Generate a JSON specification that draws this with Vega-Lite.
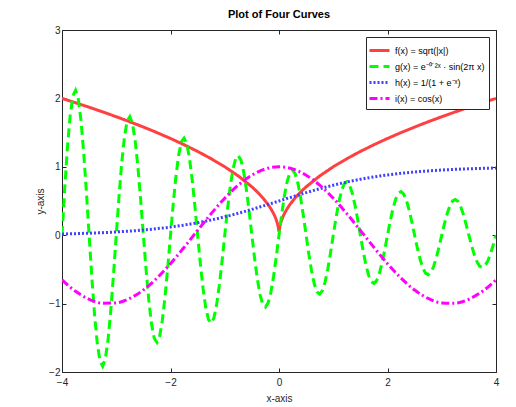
{
  "$schema": "https://vega.github.io/schema/vega-lite/v6.json",
  "width": 434,
  "height": 342,
  "autosize": {"type": "none"},
  "padding": {"left": 62, "top": 30, "right": 20, "bottom": 35},
  "background": "white",
  "title": {"text": "Plot of Four Curves", "fontSize": 11, "fontWeight": "bold", "font": "Liberation Sans", "color": "black", "offset": 5},
  "config": {
    "view": {"stroke": null},
    "font": "Liberation Sans",
    "axis": {
      "grid": false,
      "domainColor": "#262626",
      "tickColor": "#262626",
      "labelColor": "#262626",
      "titleColor": "#262626",
      "labelFont": "Liberation Sans",
      "titleFont": "Liberation Sans",
      "labelFontSize": 10,
      "titleFontSize": 10,
      "titleFontWeight": "normal",
      "tickSize": -4,
      "domainWidth": 1
    },
    "legend": {
      "orient": "top-right",
      "offset": 7,
      "strokeColor": "#262626",
      "fillColor": "white",
      "padding": 4,
      "labelFont": "Liberation Sans",
      "labelFontSize": 9,
      "labelColor": "black",
      "labelOffset": 6,
      "symbolType": "M-1.25,0H1.25",
      "symbolSize": 256,
      "symbolStrokeWidth": 3,
      "rowPadding": 0,
      "title": null
    }
  },
  "datasets": {
    "f": [
      {"x": -4, "y": 2}, {"x": -3.75, "y": 1.9365}, {"x": -3.5, "y": 1.8708}, {"x": -3.25, "y": 1.8028},
      {"x": -3, "y": 1.7321}, {"x": -2.75, "y": 1.6583}, {"x": -2.5, "y": 1.5811}, {"x": -2.25, "y": 1.5},
      {"x": -2, "y": 1.4142}, {"x": -1.75, "y": 1.3229}, {"x": -1.5, "y": 1.2247}, {"x": -1.25, "y": 1.118},
      {"x": -1, "y": 1}, {"x": -0.75, "y": 0.866}, {"x": -0.5, "y": 0.7071}, {"x": -0.4, "y": 0.6325},
      {"x": -0.3, "y": 0.5477}, {"x": -0.2, "y": 0.4472}, {"x": -0.15, "y": 0.3873}, {"x": -0.1, "y": 0.3162},
      {"x": -0.07, "y": 0.2646}, {"x": -0.05, "y": 0.2236}, {"x": -0.03, "y": 0.1732}, {"x": -0.02, "y": 0.1414},
      {"x": -0.01, "y": 0.1}, {"x": -0.005, "y": 0.0707},
      {"x": 0.005, "y": 0.0707}, {"x": 0.01, "y": 0.1}, {"x": 0.02, "y": 0.1414}, {"x": 0.03, "y": 0.1732},
      {"x": 0.05, "y": 0.2236}, {"x": 0.07, "y": 0.2646}, {"x": 0.1, "y": 0.3162}, {"x": 0.15, "y": 0.3873},
      {"x": 0.2, "y": 0.4472}, {"x": 0.3, "y": 0.5477}, {"x": 0.4, "y": 0.6325}, {"x": 0.5, "y": 0.7071},
      {"x": 0.75, "y": 0.866}, {"x": 1, "y": 1}, {"x": 1.25, "y": 1.118}, {"x": 1.5, "y": 1.2247},
      {"x": 1.75, "y": 1.3229}, {"x": 2, "y": 1.4142}, {"x": 2.25, "y": 1.5}, {"x": 2.5, "y": 1.5811},
      {"x": 2.75, "y": 1.6583}, {"x": 3, "y": 1.7321}, {"x": 3.25, "y": 1.8028}, {"x": 3.5, "y": 1.8708},
      {"x": 3.75, "y": 1.9365}, {"x": 4, "y": 2}
    ],
    "g": [
      {"x": -4, "y": 0}, {"x": -3.95, "y": 0.681}, {"x": -3.9, "y": 1.282}, {"x": -3.85, "y": 1.747}, {"x": -3.8, "y": 2.034},
      {"x": -3.75, "y": 2.117}, {"x": -3.7, "y": 1.993}, {"x": -3.65, "y": 1.679}, {"x": -3.6, "y": 1.208}, {"x": -3.55, "y": 0.629},
      {"x": -3.5, "y": 0}, {"x": -3.45, "y": -0.616}, {"x": -3.4, "y": -1.16}, {"x": -3.35, "y": -1.581}, {"x": -3.3, "y": -1.84},
      {"x": -3.25, "y": -1.916}, {"x": -3.2, "y": -1.804}, {"x": -3.15, "y": -1.519}, {"x": -3.1, "y": -1.093}, {"x": -3.05, "y": -0.569},
      {"x": -3, "y": 0}, {"x": -2.95, "y": 0.557}, {"x": -2.9, "y": 1.05}, {"x": -2.85, "y": 1.431}, {"x": -2.8, "y": 1.665},
      {"x": -2.75, "y": 1.733}, {"x": -2.7, "y": 1.632}, {"x": -2.65, "y": 1.374}, {"x": -2.6, "y": 0.989}, {"x": -2.55, "y": 0.515},
      {"x": -2.5, "y": 0}, {"x": -2.45, "y": -0.504}, {"x": -2.4, "y": -0.95}, {"x": -2.35, "y": -1.294}, {"x": -2.3, "y": -1.507},
      {"x": -2.25, "y": -1.568}, {"x": -2.2, "y": -1.477}, {"x": -2.15, "y": -1.244}, {"x": -2.1, "y": -0.895}, {"x": -2.05, "y": -0.466},
      {"x": -2, "y": 0}, {"x": -1.95, "y": 0.456}, {"x": -1.9, "y": 0.86}, {"x": -1.85, "y": 1.171}, {"x": -1.8, "y": 1.363},
      {"x": -1.75, "y": 1.419}, {"x": -1.7, "y": 1.336}, {"x": -1.65, "y": 1.125}, {"x": -1.6, "y": 0.809}, {"x": -1.55, "y": 0.421},
      {"x": -1.5, "y": 0}, {"x": -1.45, "y": -0.413}, {"x": -1.4, "y": -0.778}, {"x": -1.35, "y": -1.06}, {"x": -1.3, "y": -1.233},
      {"x": -1.25, "y": -1.284}, {"x": -1.2, "y": -1.209}, {"x": -1.15, "y": -1.018}, {"x": -1.1, "y": -0.732}, {"x": -1.05, "y": -0.381},
      {"x": -1, "y": 0}, {"x": -0.95, "y": 0.374}, {"x": -0.9, "y": 0.704}, {"x": -0.85, "y": 0.959}, {"x": -0.8, "y": 1.116},
      {"x": -0.75, "y": 1.162}, {"x": -0.7, "y": 1.094}, {"x": -0.65, "y": 0.921}, {"x": -0.6, "y": 0.663}, {"x": -0.55, "y": 0.345},
      {"x": -0.5, "y": 0}, {"x": -0.45, "y": -0.338}, {"x": -0.4, "y": -0.637}, {"x": -0.35, "y": -0.868}, {"x": -0.3, "y": -1.01},
      {"x": -0.25, "y": -1.051}, {"x": -0.2, "y": -0.99}, {"x": -0.15, "y": -0.834}, {"x": -0.1, "y": -0.6}, {"x": -0.05, "y": -0.312},
      {"x": 0, "y": 0}, {"x": 0.05, "y": 0.306}, {"x": 0.1, "y": 0.576}, {"x": 0.15, "y": 0.785}, {"x": 0.2, "y": 0.914},
      {"x": 0.25, "y": 0.951}, {"x": 0.3, "y": 0.896}, {"x": 0.35, "y": 0.754}, {"x": 0.4, "y": 0.543}, {"x": 0.45, "y": 0.282},
      {"x": 0.5, "y": 0}, {"x": 0.55, "y": -0.277}, {"x": 0.6, "y": -0.521}, {"x": 0.65, "y": -0.71}, {"x": 0.7, "y": -0.827},
      {"x": 0.75, "y": -0.861}, {"x": 0.8, "y": -0.81}, {"x": 0.85, "y": -0.683}, {"x": 0.9, "y": -0.491}, {"x": 0.95, "y": -0.256},
      {"x": 1, "y": 0}, {"x": 1.05, "y": 0.25}, {"x": 1.1, "y": 0.472}, {"x": 1.15, "y": 0.643}, {"x": 1.2, "y": 0.748},
      {"x": 1.25, "y": 0.779}, {"x": 1.3, "y": 0.733}, {"x": 1.35, "y": 0.618}, {"x": 1.4, "y": 0.444}, {"x": 1.45, "y": 0.231},
      {"x": 1.5, "y": 0}, {"x": 1.55, "y": -0.227}, {"x": 1.6, "y": -0.427}, {"x": 1.65, "y": -0.582}, {"x": 1.7, "y": -0.677},
      {"x": 1.75, "y": -0.705}, {"x": 1.8, "y": -0.664}, {"x": 1.85, "y": -0.559}, {"x": 1.9, "y": -0.402}, {"x": 1.95, "y": -0.209},
      {"x": 2, "y": 0}, {"x": 2.05, "y": 0.205}, {"x": 2.1, "y": 0.386}, {"x": 2.15, "y": 0.526}, {"x": 2.2, "y": 0.613},
      {"x": 2.25, "y": 0.638}, {"x": 2.3, "y": 0.6}, {"x": 2.35, "y": 0.506}, {"x": 2.4, "y": 0.364}, {"x": 2.45, "y": 0.189},
      {"x": 2.5, "y": 0}, {"x": 2.55, "y": -0.186}, {"x": 2.6, "y": -0.349}, {"x": 2.65, "y": -0.476}, {"x": 2.7, "y": -0.554},
      {"x": 2.75, "y": -0.577}, {"x": 2.8, "y": -0.543}, {"x": 2.85, "y": -0.458}, {"x": 2.9, "y": -0.329}, {"x": 2.95, "y": -0.171},
      {"x": 3, "y": 0}, {"x": 3.05, "y": 0.168}, {"x": 3.1, "y": 0.316}, {"x": 3.15, "y": 0.431}, {"x": 3.2, "y": 0.501},
      {"x": 3.25, "y": 0.522}, {"x": 3.3, "y": 0.492}, {"x": 3.35, "y": 0.414}, {"x": 3.4, "y": 0.298}, {"x": 3.45, "y": 0.155},
      {"x": 3.5, "y": 0}, {"x": 3.55, "y": -0.152}, {"x": 3.6, "y": -0.286}, {"x": 3.65, "y": -0.39}, {"x": 3.7, "y": -0.454},
      {"x": 3.75, "y": -0.472}, {"x": 3.8, "y": -0.445}, {"x": 3.85, "y": -0.375}, {"x": 3.9, "y": -0.269}, {"x": 3.95, "y": -0.14},
      {"x": 4, "y": 0}
    ],
    "h": [
      {"x": -4, "y": 0.01799}, {"x": -3.75, "y": 0.02298}, {"x": -3.5, "y": 0.02931}, {"x": -3.25, "y": 0.03732},
      {"x": -3, "y": 0.04743}, {"x": -2.75, "y": 0.06009}, {"x": -2.5, "y": 0.07586}, {"x": -2.25, "y": 0.09535},
      {"x": -2, "y": 0.1192}, {"x": -1.75, "y": 0.14805}, {"x": -1.5, "y": 0.18243}, {"x": -1.25, "y": 0.2227},
      {"x": -1, "y": 0.26894}, {"x": -0.75, "y": 0.32082}, {"x": -0.5, "y": 0.37754}, {"x": -0.25, "y": 0.43782},
      {"x": 0, "y": 0.5}, {"x": 0.25, "y": 0.56218}, {"x": 0.5, "y": 0.62246}, {"x": 0.75, "y": 0.67918},
      {"x": 1, "y": 0.73106}, {"x": 1.25, "y": 0.7773}, {"x": 1.5, "y": 0.81757}, {"x": 1.75, "y": 0.85195},
      {"x": 2, "y": 0.8808}, {"x": 2.25, "y": 0.90465}, {"x": 2.5, "y": 0.92414}, {"x": 2.75, "y": 0.93991},
      {"x": 3, "y": 0.95257}, {"x": 3.25, "y": 0.96268}, {"x": 3.5, "y": 0.97069}, {"x": 3.75, "y": 0.97702},
      {"x": 4, "y": 0.98201}
    ],
    "i": [
      {"x": -4, "y": -0.65364}, {"x": -3.75, "y": -0.82056}, {"x": -3.5, "y": -0.93646}, {"x": -3.25, "y": -0.99413},
      {"x": -3, "y": -0.98999}, {"x": -2.75, "y": -0.9243}, {"x": -2.5, "y": -0.80114}, {"x": -2.25, "y": -0.62817},
      {"x": -2, "y": -0.41615}, {"x": -1.75, "y": -0.17825}, {"x": -1.5, "y": 0.07074}, {"x": -1.25, "y": 0.31532},
      {"x": -1, "y": 0.5403}, {"x": -0.75, "y": 0.73169}, {"x": -0.5, "y": 0.87758}, {"x": -0.25, "y": 0.96891},
      {"x": 0, "y": 1}, {"x": 0.25, "y": 0.96891}, {"x": 0.5, "y": 0.87758}, {"x": 0.75, "y": 0.73169},
      {"x": 1, "y": 0.5403}, {"x": 1.25, "y": 0.31532}, {"x": 1.5, "y": 0.07074}, {"x": 1.75, "y": -0.17825},
      {"x": 2, "y": -0.41615}, {"x": 2.25, "y": -0.62817}, {"x": 2.5, "y": -0.80114}, {"x": 2.75, "y": -0.9243},
      {"x": 3, "y": -0.98999}, {"x": 3.25, "y": -0.99413}, {"x": 3.5, "y": -0.93646}, {"x": 3.75, "y": -0.82056},
      {"x": 4, "y": -0.65364}
    ]
  },
  "layer": [
    {
      "encoding": {
        "x": {"field": "x", "type": "quantitative", "scale": {"domain": [-4, 4], "nice": false, "zero": false},
              "axis": {"orient": "bottom", "values": [-4, -2, 0, 2, 4], "title": "x-axis", "labelPadding": 9, "titlePadding": 6, "labelFlush": false}},
        "y": {"field": "y", "type": "quantitative", "scale": {"domain": [-2, 3], "nice": false, "zero": false},
              "axis": {"orient": "left", "values": [-2, -1, 0, 1, 2, 3], "title": "y-axis", "labelPadding": 6, "titlePadding": 3, "labelFlush": false}},
        "color": {"type": "nominal",
                  "scale": {"domain": ["f(x) = sqrt(|x|)", "g(x) = e⁻⁰˙²ˣ · sin(2π x)", "h(x) = 1/(1 + e⁻ˣ)", "i(x) = cos(x)"],
                            "range": ["#ff4040", "#00ff00", "#4040ff", "#ff00ff"]}},
        "strokeDash": {"type": "nominal",
                  "scale": {"domain": ["f(x) = sqrt(|x|)", "g(x) = e⁻⁰˙²ˣ · sin(2π x)", "h(x) = 1/(1 + e⁻ˣ)", "i(x) = cos(x)"],
                            "range": [[1, 0], [9, 5], [2, 2], [8, 3, 2, 3]]}}
      },
      "layer": [
        {"data": {"name": "f"}, "mark": {"type": "line", "strokeWidth": 3, "clip": true},
         "encoding": {"color": {"datum": "f(x) = sqrt(|x|)"}, "strokeDash": {"datum": "f(x) = sqrt(|x|)"}}},
        {"data": {"name": "g"}, "mark": {"type": "line", "strokeWidth": 3, "clip": true},
         "encoding": {"color": {"datum": "g(x) = e⁻⁰˙²ˣ · sin(2π x)"}, "strokeDash": {"datum": "g(x) = e⁻⁰˙²ˣ · sin(2π x)"}}},
        {"data": {"name": "h"}, "mark": {"type": "line", "strokeWidth": 3, "clip": true, "interpolate": "monotone"},
         "encoding": {"color": {"datum": "h(x) = 1/(1 + e⁻ˣ)"}, "strokeDash": {"datum": "h(x) = 1/(1 + e⁻ˣ)"}}},
        {"data": {"name": "i"}, "mark": {"type": "line", "strokeWidth": 3, "clip": true, "interpolate": "monotone"},
         "encoding": {"color": {"datum": "i(x) = cos(x)"}, "strokeDash": {"datum": "i(x) = cos(x)"}}}
      ]
    },
    {
      "data": {"name": "h"},
      "mark": {"type": "point", "opacity": 0},
      "encoding": {
        "x": {"field": "x", "type": "quantitative", "scale": {"domain": [-4, 4], "nice": false, "zero": false},
              "axis": {"orient": "top", "values": [-4, -2, 0, 2, 4], "labels": false, "title": null}},
        "y": {"field": "y", "type": "quantitative", "scale": {"domain": [-2, 3], "nice": false, "zero": false},
              "axis": {"orient": "right", "values": [-2, -1, 0, 1, 2, 3], "labels": false, "title": null}}
      }
    }
  ],
  "resolve": {"axis": {"x": "independent", "y": "independent"}}
}
